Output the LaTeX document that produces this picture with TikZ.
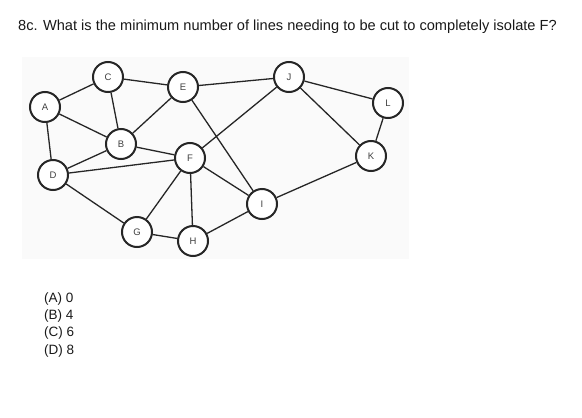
\documentclass[tikz,border=0pt]{standalone}
\usepackage{fontspec}
\setmainfont{Liberation Sans}
\begin{document}
\begin{tikzpicture}[x=1pt,y=-1pt,
  vert/.style={circle,draw=black!85,line width=2pt,fill=white,minimum size=30pt,inner sep=0pt,font=\fontsize{9.5}{9.5}\selectfont,text=black!75},
  edge/.style={draw=black!85,line width=1.3pt},
  txt/.style={anchor=base west,inner sep=0pt,font=\fontsize{14.6}{14.6}\selectfont,text=black!90},
  opt/.style={anchor=base west,inner sep=0pt,font=\fontsize{13.5}{13.5}\selectfont,text=black!90}]
\useasboundingbox (0,0) rectangle (582,418);
\fill[black!2] (22,57) rectangle (409,259);
\node[txt] (title) at (18,30) {8c. What is the minimum number of lines needing to be cut to completely isolate F?};
\node (A) [vert] at (45,107) {A};
\node (C) [vert] at (108,77) {C};
\node (E) [vert] at (183,87) {E};
\node (B) [vert] at (121,144) {B};
\node (F) [vert] at (190,158) {F};
\node (D) [vert] at (53,175) {D};
\node (G) [vert] at (137,232) {G};
\node (H) [vert] at (193,241) {H};
\node (J) [vert] at (289,77) {J};
\node (L) [vert] at (388,103) {L};
\node (K) [vert] at (371,156) {K};
\node (I) [vert] at (262,204) {I};
\foreach \a/\b in {A/C,A/B,A/D,C/B,C/E,E/B,E/J,E/I,B/D,B/F,D/F,D/G,F/J,F/I,F/G,F/H,G/H,H/I,J/L,J/K,L/K,K/I}
  \path[edge] (\a) -- (\b);
\node[opt] (oa) at (44,302) {(A) 0};
\node[opt] (ob) at (44,319) {(B) 4};
\node[opt] (oc) at (44,336) {(C) 6};
\node[opt] (od) at (44,354) {(D) 8};
\end{tikzpicture}
\end{document}
